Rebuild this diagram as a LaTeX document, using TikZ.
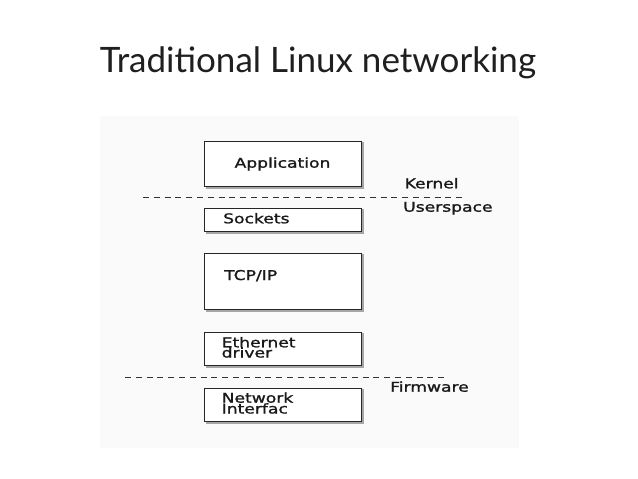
\documentclass[tikz,border=0pt]{standalone}
\usepackage{fontspec}
\newfontfamily\titlefont{Lato}
\newfontfamily\diafont[FakeStretch=1.27,FakeBold=1.3]{DejaVu Sans}
\begin{document}
\begin{tikzpicture}[x=1pt,y=-1pt,
  layerbox/.style={draw=black!85,line width=0.9pt,fill=white,anchor=north west,inner sep=0pt},
  shadowbox/.style={draw=black!35,line width=1.2pt},
  lbl/.style={font=\diafont\fontsize{13.5}{10}\selectfont,inner sep=0pt,text=black!90,anchor=base west},
  sep/.style={draw=black!80,line width=0.8pt,dash pattern=on 6pt off 4.8pt}]
\useasboundingbox (0,0) rectangle (638,479);
\fill[white] (0,0) rectangle (638,479);
\fill[black!2] (100,116) rectangle (519,448);
\node[font=\titlefont\fontsize{35}{40}\selectfont,text=black!88,anchor=base] (title) at (318,72.5) {Traditional Linux networking};
% shadows
\foreach \t/\b in {141/186,208/231,253/309,332/365,388/421}{
  \draw[shadowbox] (206,\t+2) -- (363,\t+2) -- (363,\b+2) -- (206,\b+2);
}
\node[layerbox,minimum width=157pt,minimum height=45pt] (app) at (204,141) {};
\node[layerbox,minimum width=157pt,minimum height=23pt] (sock) at (204,208) {};
\node[layerbox,minimum width=157pt,minimum height=56pt] (tcp) at (204,253) {};
\node[layerbox,minimum width=157pt,minimum height=33pt] (eth) at (204,332) {};
\node[layerbox,minimum width=157pt,minimum height=33pt] (nic) at (204,388) {};
\node[lbl,anchor=base] (appl) at (282.5,167.7) {Application};
\node[lbl] (sockl) at (223,223.3) {Sockets};
\node[lbl] (tcpl) at (224,280) {TCP/IP};
\node[lbl] (ethl1) at (221.5,347.3) {Ethernet};
\node[lbl] (ethl2) at (221.5,357.5) {driver};
\node[lbl] (nicl1) at (221.5,402.7) {Network};
\node[lbl] (nicl2) at (221.5,413.5) {Interfac};
\coordinate (k1) at (143,197.5);
\coordinate (k2) at (463,197.5);
\coordinate (f1) at (125,377);
\coordinate (f2) at (445,377);
\draw[sep] (k1) -- (k2);
\draw[sep] (f1) -- (f2);
\node[lbl] (kern) at (404.5,188.3) {Kernel};
\node[lbl] (user) at (403,211.7) {Userspace};
\node[lbl] (firm) at (390,391.7) {Firmware};
\end{tikzpicture}
\end{document}
